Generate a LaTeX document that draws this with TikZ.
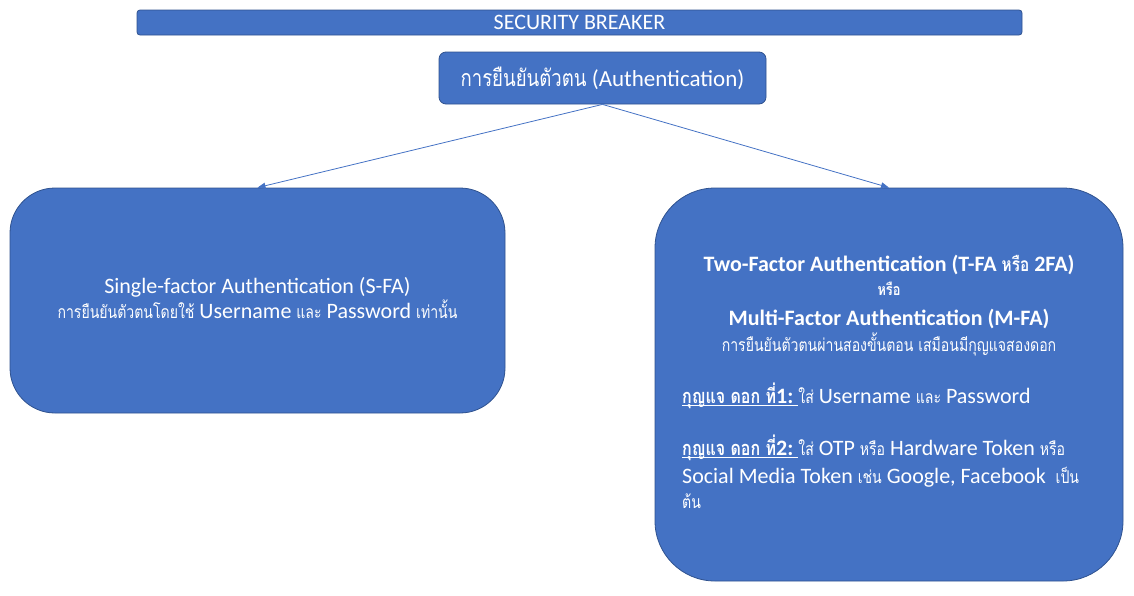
\documentclass[tikz,border=0pt]{standalone}
\usepackage{fontspec}
\setmainfont{Carlito}
\newfontfamily\thaifont[Script=Thai, Scale=0.8, FakeStretch=0.8]{Loma}
\newcommand{\thai}[1]{{\thaifont #1}}
\newcommand{\keyul}[1]{\sbox0{#1}\rlap{\rule[-2.5pt]{\wd0}{0.9pt}}\usebox0}
\newcommand{\keylabel}[1]{\keyul{\bfseries{\fontsize{25}{28}\selectfont\thai{กุญแจ ดอก ที่}}#1:\ }}
\usetikzlibrary{arrows.meta}
\definecolor{boxblue}{HTML}{4472C4}
\definecolor{boxedge}{HTML}{2F528F}

\begin{document}
\begin{tikzpicture}[x=1pt, y=-1pt,
  box/.style={draw=boxedge, fill=boxblue, text=white, line width=0.8pt, inner sep=0pt},
  txt/.style={text=white, inner sep=0pt, anchor=base, font=\fontsize{22}{26}\selectfont},
  lefttxt/.style={txt, anchor=base west},
  link/.style={draw=boxblue, line width=0.8pt, -{Triangle[length=8pt, width=6pt]}}
  ]
  \useasboundingbox (0,0) rectangle (1134,595);
  % boxes
  \node (bar)[box, rounded corners=3pt, minimum width=885pt, minimum height=25pt,
    font=\fontsize{22}{26}\selectfont] at (579.5,22.5) {SECURITY BREAKER};
  \node (auth)[box, rounded corners=7pt, minimum width=327pt, minimum height=52pt,
    font=\fontsize{23}{28}\selectfont] at (602.5,78)
    {{\fontsize{29}{30}\selectfont\thai{การยืนยันตัวตน}} (Authentication)};
  \node (sfa)[box, rounded corners=45pt, minimum width=495pt, minimum height=225pt] at (257.5,300.5) {};
  \node (mfa)[box, rounded corners=60pt, minimum width=468pt, minimum height=393pt] at (889,384.5) {};
  % single factor
  \node (sfa1)[txt] at (257.5,293) {Single-factor Authentication (S-FA)};
  \node (sfa2)[txt] at (257.5,318) {\thai{การยืนยันตัวตนโดยใช้} Username \thai{และ} Password \thai{เท่านั้น}};
  % two / multi factor
  \node (mfa1)[txt, font=\fontsize{22}{26}\selectfont\bfseries] at (889,271)
    {Two-Factor Authentication (T-FA {\fontsize{24}{26}\selectfont\thai{หรือ}} 2FA)};
  \node (mfa2)[txt, font=\fontsize{20}{24}\selectfont\bfseries] at (889,295) {\thai{หรือ}};
  \node (mfa3)[txt, font=\fontsize{22}{26}\selectfont\bfseries] at (889,325) {Multi-Factor Authentication (M-FA)};
  \node (mfa4)[txt] at (889,351) {\thai{การยืนยันตัวตนผ่านสองขั้นตอน เสมือนมีกุญแจสองดอก}};
  \node (key1)[lefttxt] at (682,403) {\keylabel{1}\thai{ใส่} Username \thai{และ} Password};
  \node (key2)[lefttxt] at (682,455) {\keylabel{2}\thai{ใส่} OTP \thai{หรือ} Hardware Token \thai{หรือ}};
  \node (key3)[lefttxt] at (682,483) {Social Media Token \thai{เช่น} Google, Facebook\ \ \thai{เป็น}};
  \node (key4)[lefttxt] at (682,508) {\thai{ต้น}};
  % connectors
  \draw[link] (auth.south) -- (sfa.north);
  \draw[link] (auth.south) -- (mfa.north);
\end{tikzpicture}
\end{document}
